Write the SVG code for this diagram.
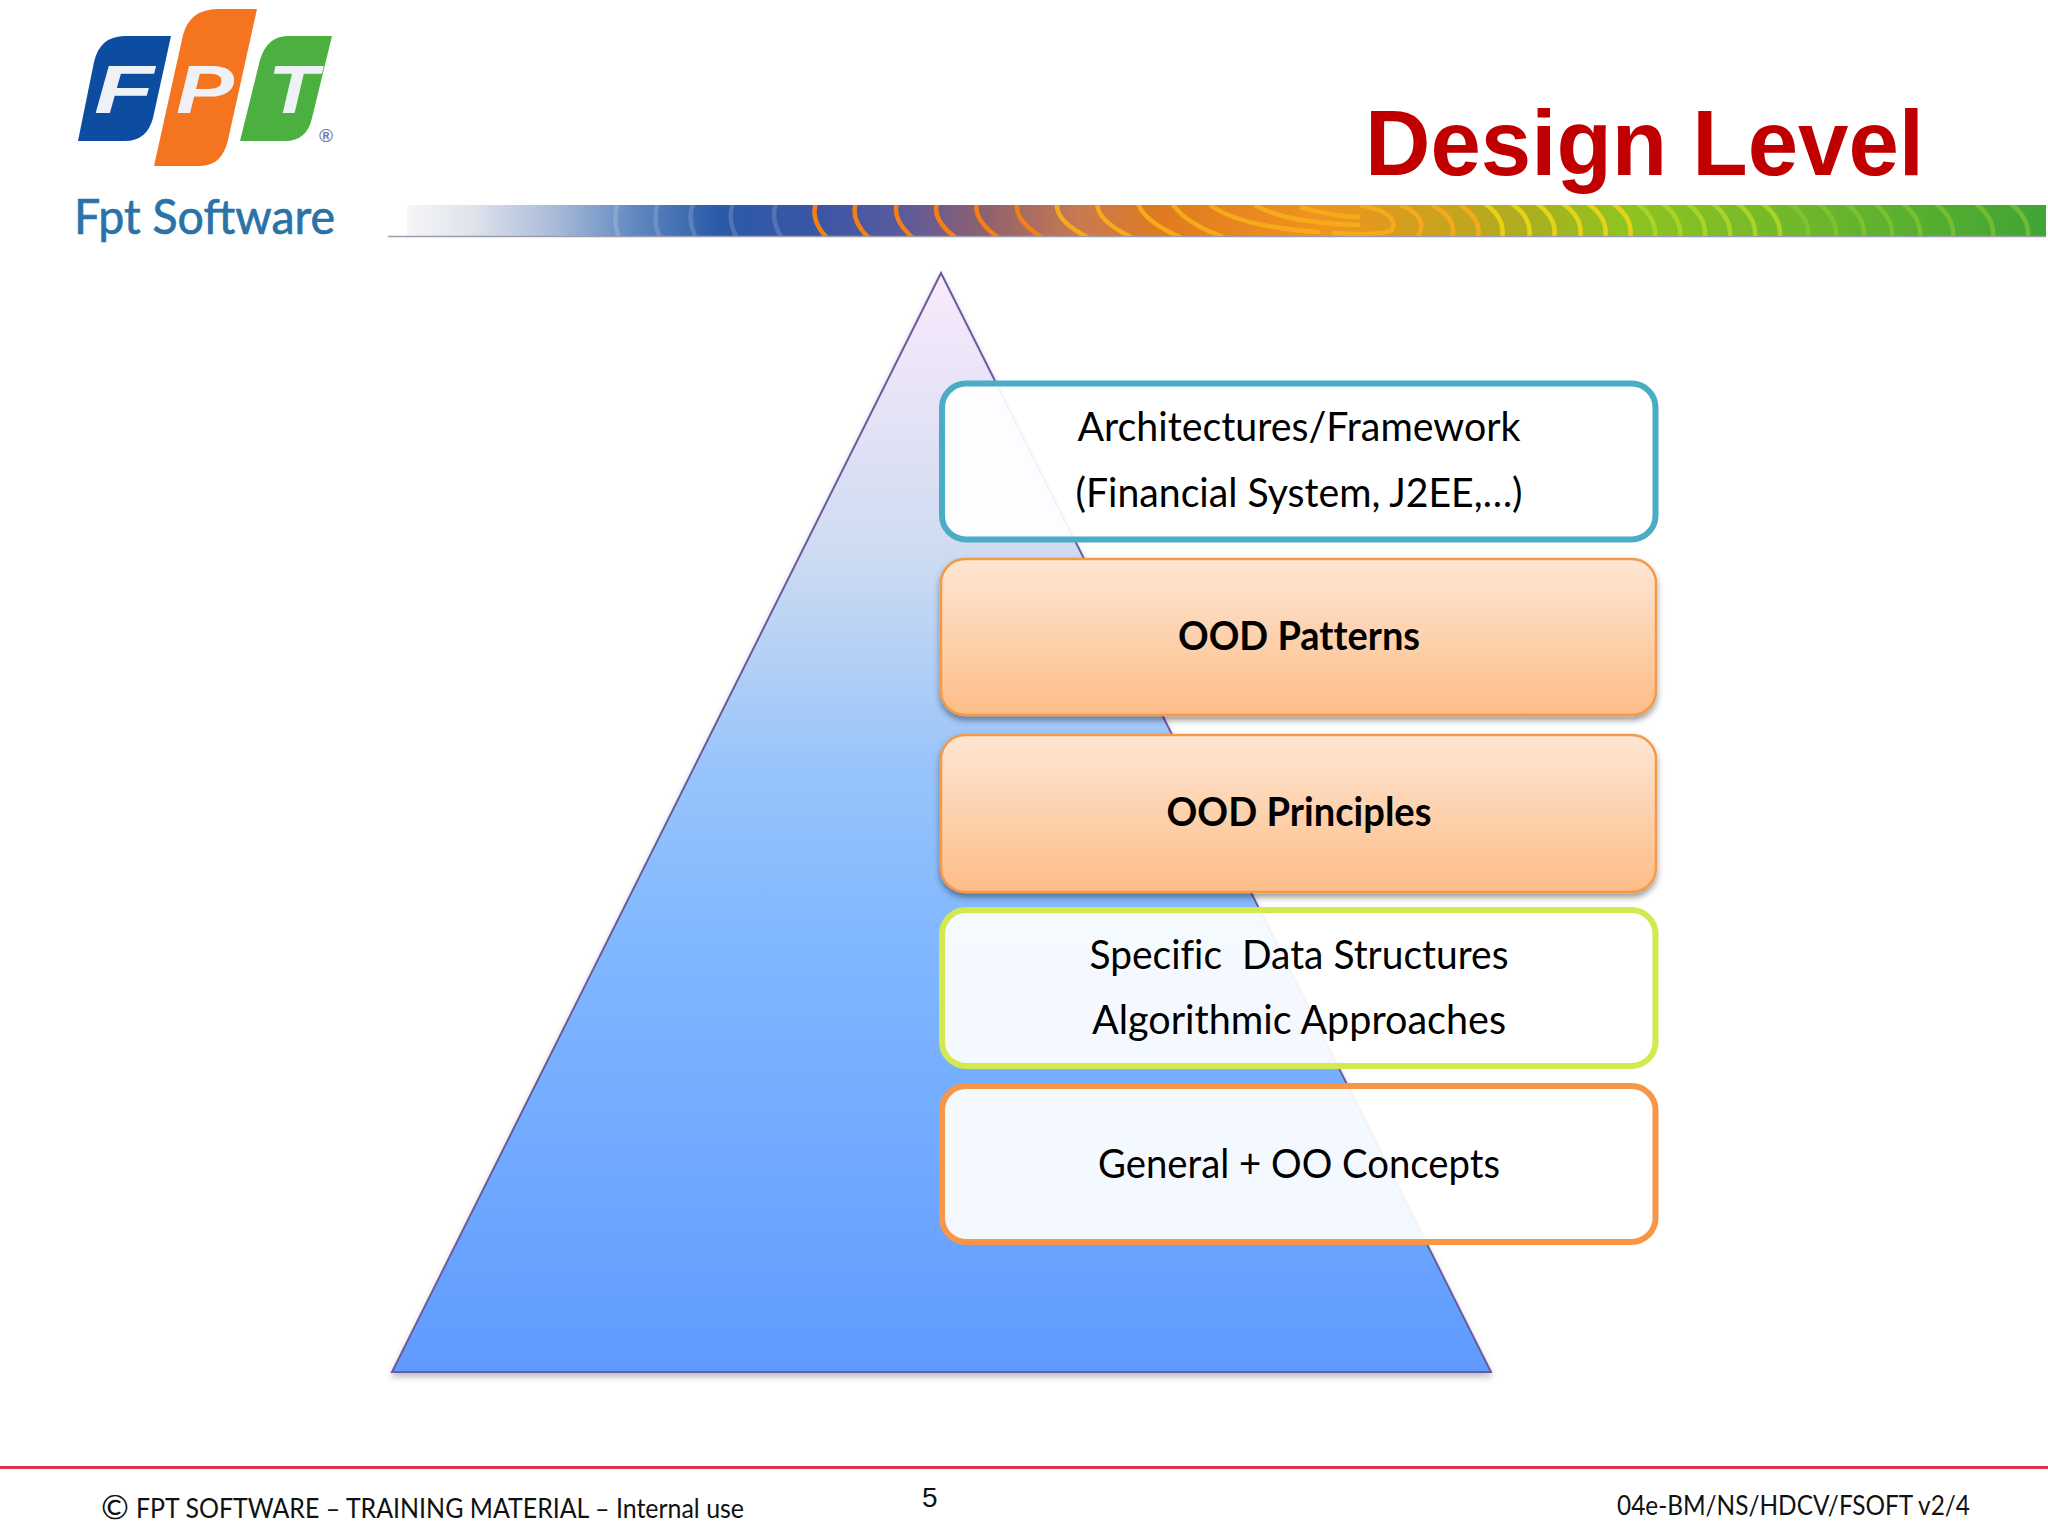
<svg xmlns="http://www.w3.org/2000/svg" width="2048" height="1536" viewBox="0 0 2048 1536">
<style>
.b{font-family:"Lato","Liberation Sans",sans-serif;font-size:40px;fill:#000;text-anchor:middle;font-variant-ligatures:none}
.bb{font-weight:700}
.f{font-family:"Lato","Liberation Sans",sans-serif;font-size:27px;fill:#111;font-variant-ligatures:none}
.box{fill:#fff;fill-opacity:.92;stroke-width:6}
.obox{fill:url(#og);stroke:#f39a4a;stroke-width:2.5;filter:url(#sh)}
.lg{font-family:"Liberation Sans",sans-serif;font-weight:700;font-style:italic;font-size:68px;fill:#eef1f5}
.r path,.r ellipse{fill:none;stroke-width:4.500}
.ro{stroke:#f57f17}.ra{stroke:#f5aa1c}.ry{stroke:#e6d318}.rg{stroke:#a8d42a}.rf{stroke:#8ccb30;opacity:.6}.rp{stroke:#fff;opacity:.16}
</style>
<defs>
<linearGradient id="pg" x1="0" y1="0" x2="0" y2="1">
<stop offset="0" stop-color="#fbe9fc"/><stop offset=".25" stop-color="#cfdcf1"/><stop offset=".45" stop-color="#98c4fb"/><stop offset=".6" stop-color="#82b8ff"/><stop offset="1" stop-color="#5f9bff"/>
</linearGradient>
<linearGradient id="og" x1="0" y1="0" x2="0" y2="1">
<stop offset="0" stop-color="#fee6d3"/><stop offset="1" stop-color="#fdbd88"/>
</linearGradient>
<linearGradient id="band" x1="407" y1="0" x2="2046" y2="0" gradientUnits="userSpaceOnUse">
<stop offset="0" stop-color="#f6f6f8"/><stop offset=".04" stop-color="#dfe3ec"/><stop offset=".09" stop-color="#a9bbd9"/><stop offset=".14" stop-color="#5f88c0"/><stop offset=".19" stop-color="#2a5aa8"/><stop offset=".25" stop-color="#3a56a6"/><stop offset=".3" stop-color="#5a5a9e"/><stop offset=".35" stop-color="#8c6070"/><stop offset=".41" stop-color="#c87a50"/><stop offset=".46" stop-color="#e07a20"/><stop offset=".56" stop-color="#f0941e"/><stop offset=".62" stop-color="#cfa01e"/><stop offset=".69" stop-color="#a8b020"/><stop offset=".74" stop-color="#90c420"/><stop offset=".86" stop-color="#6cb62c"/><stop offset="1" stop-color="#3fa535"/>
</linearGradient>
<filter id="sh" x="-5%" y="-5%" width="110%" height="115%"><feDropShadow dx="0" dy="4" stdDeviation="3" flood-color="#000" flood-opacity=".4"/></filter>
<filter id="ps" x="-5%" y="-5%" width="110%" height="110%"><feDropShadow dx="0" dy="4" stdDeviation="3" flood-color="#000" flood-opacity=".25"/></filter>
<clipPath id="bc"><rect x="407" y="205" width="1639" height="31"/></clipPath>
</defs>
<rect width="2048" height="1536" fill="#fff"/>

<g id="logo">
<path d="M171 36H125Q100 36 94 62L78 141H125Q147 141 153 118Z" fill="#0c4da2"/>
<path d="M257 9H218Q190 9 183 35L154 166H200Q222 166 228 140Z" fill="#f4741f"/>
<path d="M332 36H288Q267 36 260 60L240 141H285Q307 141 312 118Z" fill="#4bb03f"/>
<text class="lg" x="94" y="113" textLength="60" lengthAdjust="spacingAndGlyphs">F</text>
<text class="lg" x="176" y="113" textLength="58" lengthAdjust="spacingAndGlyphs">P</text>
<text class="lg" x="268" y="113" textLength="50" lengthAdjust="spacingAndGlyphs">T</text>
<text x="319" y="142" font-family="Liberation Sans, sans-serif" font-size="19" font-weight="700" fill="#6f7ab0">®</text>
<text x="74" y="234" font-family="Lato, Liberation Sans, sans-serif" font-size="48" fill="#2a72a8" stroke="#2a72a8" stroke-width=".7" textLength="261" lengthAdjust="spacingAndGlyphs">Fpt Software</text>
</g>

<g id="header">
<text x="1365" y="175" font-family="Liberation Sans, sans-serif" font-weight="700" font-size="92" fill="#c00000" textLength="559" lengthAdjust="spacingAndGlyphs">Design Level</text>
<rect x="407" y="205" width="1639" height="31" fill="url(#band)"/>
<g clip-path="url(#bc)"><g class="r">
<path class="rp" d="M618 203q-6 17 1 35M658 203q-6 17 2 35M693 203q-6 17 3 35M733 203q-6 17 4 35M776 203q-6 17 6 35"/>
<path class="ro" d="M816 203q-6 17 11 35M856 203q-6 17 13 35M897 203q-5 17 16 35M937 203q-5 17 19 35M977 203q-4 17 22 35M1017 203q-3 17 26 35"/>
<path class="ra" d="M1057 203q-2 18 32 35M1097 203q0 18 36 35M1138 203q5 18 44 35M1172 203q12 20 54 35"/>
<path class="ra" d="M1210 205q30 22 110 27M1255 205q30 18 105 20M1300 207q35 10 60 10"/>
<path class="ra" d="M1360 205q40 8 32 25q-12 6-60 3M1400 205q30 12 18 31M1432 205q26 14 20 33M1460 205q22 14 18 33"/>
<path class="ry" d="M1484 203q22 15 18 35M1511 203q22 15 18 35M1536 203q22 15 18 35M1562 203q22 15 18 35M1587 203q22 15 18 35M1612 203q22 15 18 35"/>
<path class="rg" d="M1637 203q20 15 18 35M1662 203q20 15 18 35M1687 203q20 15 18 35M1712 203q20 15 18 35M1737 203q20 15 18 35M1762 203q20 15 18 35"/>
<path class="rf" d="M1790 203q20 15 18 35M1818 203q20 15 18 35M1846 203q20 15 18 35M1874 203q20 15 18 35M1902 203q20 15 18 35M1935 203q20 15 18 35M1975 203q20 15 18 35M2010 203q20 15 18 35"/>
</g></g>
<path d="M388 236.500H2046" stroke="#9a9cb0" stroke-width="1.500" fill="none"/>
</g>

<g id="pyramid">
<polygon points="941,273 392,1372 1491,1372" fill="url(#pg)" stroke="#6a5ca0" stroke-width="2" filter="url(#ps)"/>
</g>

<g id="node-architecture">
<rect class="box" x="942" y="383.500" width="713.500" height="156" rx="24" stroke="#4bacc6"/>
<text class="b" x="1299" y="441" textLength="443" lengthAdjust="spacingAndGlyphs">Architectures/Framework</text>
<text class="b" x="1299" y="507" textLength="447" lengthAdjust="spacingAndGlyphs">(Financial System, J2EE,…)</text>
</g>
<g id="node-patterns">
<rect class="obox" x="941" y="559" width="715" height="156" rx="24"/>
<text class="b bb" x="1299" y="650" textLength="242" lengthAdjust="spacingAndGlyphs">OOD Patterns</text>
</g>
<g id="node-principles">
<rect class="obox" x="941" y="735" width="715" height="157" rx="24"/>
<text class="b bb" x="1299" y="826" textLength="265" lengthAdjust="spacingAndGlyphs">OOD Principles</text>
</g>
<g id="node-data">
<rect class="box" x="942" y="910" width="713.500" height="156" rx="24" stroke="#d4e94f"/>
<text class="b" x="1299" y="969" textLength="419" lengthAdjust="spacingAndGlyphs" xml:space="preserve">Specific  Data Structures</text>
<text class="b" x="1299" y="1034" textLength="414" lengthAdjust="spacingAndGlyphs">Algorithmic Approaches</text>
</g>
<g id="node-concepts">
<rect class="box" x="942" y="1086" width="713.500" height="156" rx="24" stroke="#f79646"/>
<text class="b" x="1299" y="1178" textLength="402" lengthAdjust="spacingAndGlyphs">General + OO Concepts</text>
</g>

<g id="connectors"></g>

<g id="footer">
<path d="M0 1467.500H2048" stroke="#dc3450" stroke-width="3" fill="none"/>
<text class="f" x="101" y="1519" style="font-size:33px" textLength="28" lengthAdjust="spacingAndGlyphs">©</text>
<text class="f" x="136" y="1518" textLength="608" lengthAdjust="spacingAndGlyphs">FPT SOFTWARE – TRAINING MATERIAL – Internal use</text>
<text x="922" y="1507" font-family="Liberation Sans, sans-serif" font-size="28" fill="#111">5</text>
<text class="f" x="1617" y="1515" textLength="353" lengthAdjust="spacingAndGlyphs">04e-BM/NS/HDCV/FSOFT v2/4</text>
</g>
</svg>
